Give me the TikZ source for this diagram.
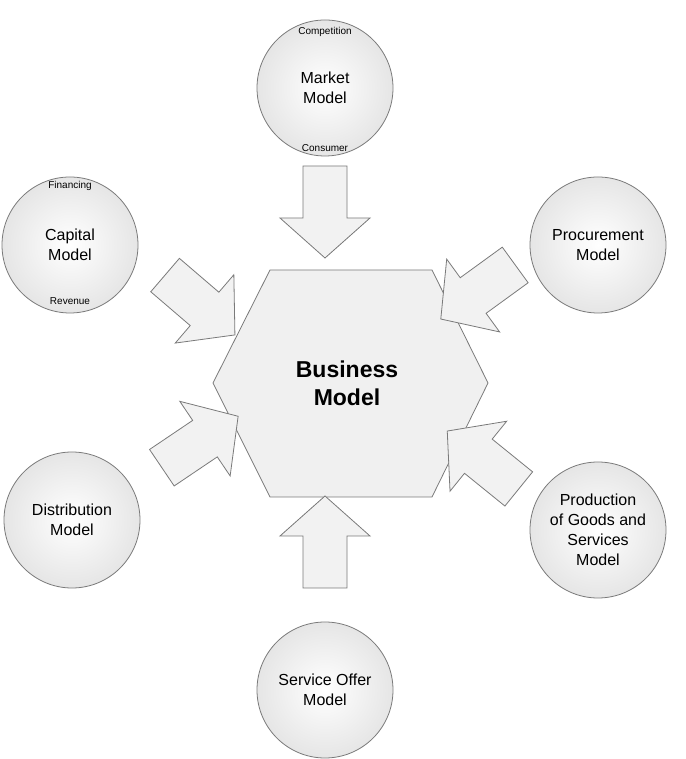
\documentclass[tikz,border=0pt]{standalone}
\usepackage{fontspec}
\setmainfont{Liberation Sans}
\usetikzlibrary{shapes.geometric}
\definecolor{edge}{HTML}{7A7A7A}
\tikzset{
  model/.style={circle,draw=edge,line width=0.8pt,minimum size=136pt,inner sep=0pt,
    inner color=white,outer color=black!10,align=center,font=\fontsize{16}{20}\selectfont},
  blockarrow/.style={draw=edge,line width=0.8pt,fill=black!5,line join=miter},
  small/.style={font=\fontsize{10}{11}\selectfont}
}
\newcommand\myblockarrow[3]{%
  \draw[blockarrow,shift={(#1,#2)},rotate=#3]
    (-46,-22)--(6,-22)--(6,-45)--(46,0)--(6,45)--(6,22)--(-46,22)--cycle;}
\begin{document}
\begin{tikzpicture}[x=1pt,y=1pt]
\useasboundingbox (0,0) rectangle (685,759);
\fill[white] (0,0) rectangle (685,759);
% hexagon
\draw[edge,line width=0.8pt,fill=black!6] (213,376)--(270,489)--(432,489)--(488,376)--(432,262)--(270,262)--cycle;
\node[font=\bfseries\fontsize{23}{28}\selectfont,align=center] (bm) at (347,376) {Business\\Model};
% circles
\node[model] (market) at (325,671) {Market\\Model};
\node[small] (comp) at (325,727) {Competition};
\node[small] (cons) at (325,611) {Consumer};
\node[model] (capital) at (70,514) {Capital\\Model};
\node[small] (fin) at (70,573) {Financing};
\node[small] (rev) at (70,458) {Revenue};
\node[model] (proc) at (598,514) {Procurement\\Model};
\node[model] (dist) at (72,239) {Distribution\\Model};
\node[model] (prod) at (598,229) {Production\\of Goods and\\Services\\Model};
\node[model] (serv) at (325,69) {Service Offer\\Model};
% arrows
\myblockarrow{325}{547}{-90}
\myblockarrow{200}{454}{-40.6}
\myblockarrow{478}{467}{216}
\myblockarrow{200}{317}{34}
\myblockarrow{483}{299}{141}
\myblockarrow{325}{217}{90}
\end{tikzpicture}
\end{document}
